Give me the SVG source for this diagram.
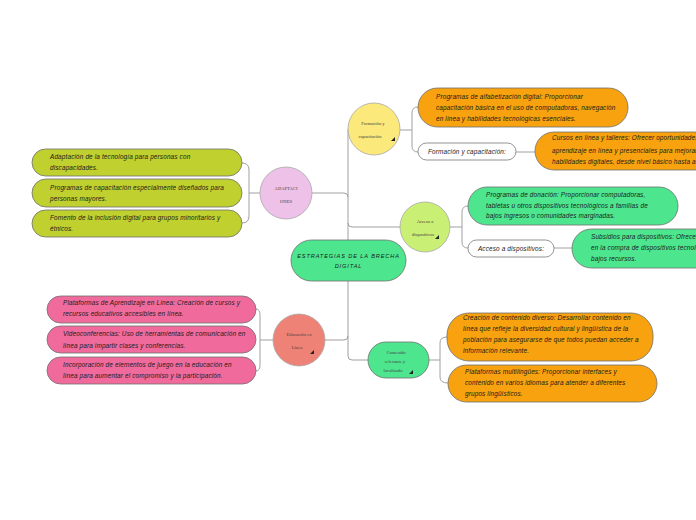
<svg xmlns="http://www.w3.org/2000/svg" width="696" height="520" viewBox="0 0 696 520">
<style>
.t{font-family:"Liberation Sans",Arial,sans-serif;font-style:italic;font-size:6.4px;fill:#1a1a1a;letter-spacing:0.15px}
.c{font-family:"Liberation Serif","Times New Roman",serif;font-size:4.6px;fill:#444;text-anchor:middle}
.box{stroke:#6e6e6e;stroke-width:0.8}
.circ{stroke:#a8a8a8;stroke-width:0.8}
.pill{fill:#fff;stroke:#777;stroke-width:0.8}
.ln{fill:none;stroke:#a0a0a0;stroke-width:1}
.ic{fill:#222}
</style>
<rect width="696" height="520" fill="#fff"/>
<g id="connectors">
<path class="ln" d="M348,129 V356 Q348,360 352,360 H368"/>
<path class="ln" d="M312,193 H344 Q348,193 348,197"/>
<path class="ln" d="M348,223 Q348,227 352,227 H400"/>
<path class="ln" d="M325,340 H344 Q348,340 348,336"/>
<path class="ln" d="M400,130 H412 M418,107 Q412,107 412,113 V146 Q412,152 418,152"/>
<path class="ln" d="M516,152 H535"/>
<path class="ln" d="M450,227 H462 M468,206 Q462,206 462,212 V242 Q462,248 468,248"/>
<path class="ln" d="M554,248 H572"/>
<path class="ln" d="M429,360 H440 M447,337 Q440,337 440,343 V377 Q440,383 448,383"/>
<path class="ln" d="M260,193 H249 M242,163 Q249,163 249,170 V216 Q249,223 242,223"/>
<path class="ln" d="M273,340 H260 M256,309 Q260,309 260,315 V365 Q260,371 256,371"/>
</g>
<g id="center">
<rect class="box" x="291" y="240" width="115" height="41" rx="20.5" fill="#4de68f" stroke="#555"/>
<text x="348.5" y="258" font-family="Liberation Sans,Arial,sans-serif" font-style="italic" font-size="5.6" letter-spacing="0.9" text-anchor="middle" fill="#1a1a1a">ESTRATEGIAS DE LA BRECHA</text>
<text x="348.5" y="268" font-family="Liberation Sans,Arial,sans-serif" font-style="italic" font-size="5.6" letter-spacing="0.9" text-anchor="middle" fill="#1a1a1a">DIGITAL</text>
</g>
<g id="formacion">
<circle class="circ" cx="374" cy="129" r="26" fill="#fbe97b"/>
<text class="c" x="373" y="125">Formación y</text>
<text class="c" x="370" y="138">capacitación</text>
<polygon class="ic" points="391,141 395,141 395,137"/>
</g>
<g id="alfabetizacion">
<rect class="box" x="418" y="88" width="210" height="39" rx="19.5" fill="#f7a20e"/>
<text class="t" x="436" y="99">Programas de alfabetización digital: Proporcionar</text>
<text class="t" x="436" y="110">capacitación básica en el uso de computadoras, navegación</text>
<text class="t" x="436" y="121">en línea y habilidades tecnológicas esenciales.</text>
</g>
<g id="formacion-pill">
<rect class="pill" x="418" y="143" width="98" height="17" rx="8.5"/>
<text class="t" x="467" y="154" text-anchor="middle" font-size="6.8">Formación y capacitación:</text>
</g>
<g id="cursos">
<rect class="box" x="535" y="132" width="220" height="38" rx="19" fill="#f7a20e"/>
<text class="t" x="552" y="140">Cursos en línea y talleres: Ofrecer oportunidades</text>
<text class="t" x="552" y="153">aprendizaje en línea y presenciales para mejorar</text>
<text class="t" x="552" y="164">habilidades digitales, desde nivel básico hasta av</text>
</g>
<g id="acceso">
<circle class="circ" cx="425" cy="227" r="25" fill="#c9ef74"/>
<text class="c" x="425" y="223">Acceso a</text>
<text class="c" x="423" y="236">dispositivos</text>
<polygon class="ic" points="435,239 439,239 439,235"/>
</g>
<g id="donacion">
<rect class="box" x="468" y="187" width="210" height="38" rx="19" fill="#4de68f"/>
<text class="t" x="486" y="197">Programas de donación: Proporcionar computadoras,</text>
<text class="t" x="486" y="208">tabletas u otros dispositivos tecnológicos a familias de</text>
<text class="t" x="486" y="218">bajos ingresos o comunidades marginadas.</text>
</g>
<g id="acceso-pill">
<rect class="pill" x="468" y="240" width="86" height="17" rx="8.5"/>
<text class="t" x="511" y="251" text-anchor="middle" font-size="6.8">Acceso a dispositivos:</text>
</g>
<g id="subsidios">
<rect class="box" x="572" y="229" width="200" height="39" rx="19.5" fill="#4de68f"/>
<text class="t" x="591" y="239">Subsidios para dispositivos: Ofrecer a</text>
<text class="t" x="591" y="250">en la compra de dispositivos tecnoló</text>
<text class="t" x="591" y="261">bajos recursos.</text>
</g>
<g id="adaptaciones">
<circle class="circ" cx="286" cy="193" r="26" fill="#eec1e9"/>
<text class="c" x="286" y="190" font-size="5.2" fill="#666">ADAPTACI</text>
<text class="c" x="286" y="203" font-size="5.2" fill="#666">ONES</text>
</g>
<g id="adapt-1">
<rect class="box" x="32" y="149" width="210" height="27" rx="13.5" fill="#c0d02f"/>
<text class="t" x="50" y="159">Adaptación de la tecnología para personas con</text>
<text class="t" x="50" y="170">discapacidades.</text>
</g>
<g id="adapt-2">
<rect class="box" x="32" y="179" width="210" height="28" rx="14" fill="#c0d02f"/>
<text class="t" x="50" y="190">Programas de capacitación especialmente diseñados para</text>
<text class="t" x="50" y="201">personas mayores.</text>
</g>
<g id="adapt-3">
<rect class="box" x="32" y="210" width="210" height="27" rx="13.5" fill="#c0d02f"/>
<text class="t" x="50" y="220">Fomento de la inclusión digital para grupos minoritarios y</text>
<text class="t" x="50" y="231">étnicos.</text>
</g>
<g id="educacion">
<circle class="circ" cx="299" cy="340" r="26" fill="#ee8276"/>
<text class="c" x="299" y="336">Educación en</text>
<text class="c" x="297" y="349">Línea</text>
<polygon class="ic" points="310,354 314,354 314,350"/>
</g>
<g id="edu-1">
<rect class="box" x="47" y="296" width="209" height="27" rx="13.5" fill="#f06b9c"/>
<text class="t" x="63" y="305">Plataformas de Aprendizaje en Línea: Creación de cursos y</text>
<text class="t" x="63" y="316">recursos educativos accesibles en línea.</text>
</g>
<g id="edu-2">
<rect class="box" x="47" y="326" width="209" height="27" rx="13.5" fill="#f06b9c"/>
<text class="t" x="63" y="336">Videoconferencias: Uso de herramientas de comunicación en</text>
<text class="t" x="63" y="348">línea para impartir clases y conferencias.</text>
</g>
<g id="edu-3">
<rect class="box" x="47" y="357" width="209" height="27" rx="13.5" fill="#f06b9c"/>
<text class="t" x="63" y="367">Incorporación de elementos de juego en la educación en</text>
<text class="t" x="63" y="378">línea para aumentar el compromiso y la participación.</text>
</g>
<g id="contenido">
<rect class="box" x="368" y="342" width="61" height="36" rx="18" fill="#4de68f" stroke="#555"/>
<text class="c" x="396" y="354">Contenido</text>
<text class="c" x="395" y="363">relevante y</text>
<text class="c" x="393" y="372">localizado</text>
<polygon class="ic" points="409,374 413,374 413,370"/>
</g>
<g id="diverso">
<rect class="box" x="447" y="313" width="206" height="48" rx="22" fill="#f7a20e"/>
<text class="t" x="463" y="320">Creación de contenido diverso: Desarrollar contenido en</text>
<text class="t" x="463" y="331">línea que refleje la diversidad cultural y lingüística de la</text>
<text class="t" x="463" y="342">población para asegurarse de que todos puedan acceder a</text>
<text class="t" x="463" y="353">información relevante.</text>
</g>
<g id="multilingues">
<rect class="box" x="448" y="365" width="209" height="37" rx="18.5" fill="#f7a20e"/>
<text class="t" x="465" y="374">Plataformas multilingües: Proporcionar interfaces y</text>
<text class="t" x="465" y="385">contenido en varios idiomas para atender a diferentes</text>
<text class="t" x="465" y="396">grupos lingüísticos.</text>
</g>
</svg>
